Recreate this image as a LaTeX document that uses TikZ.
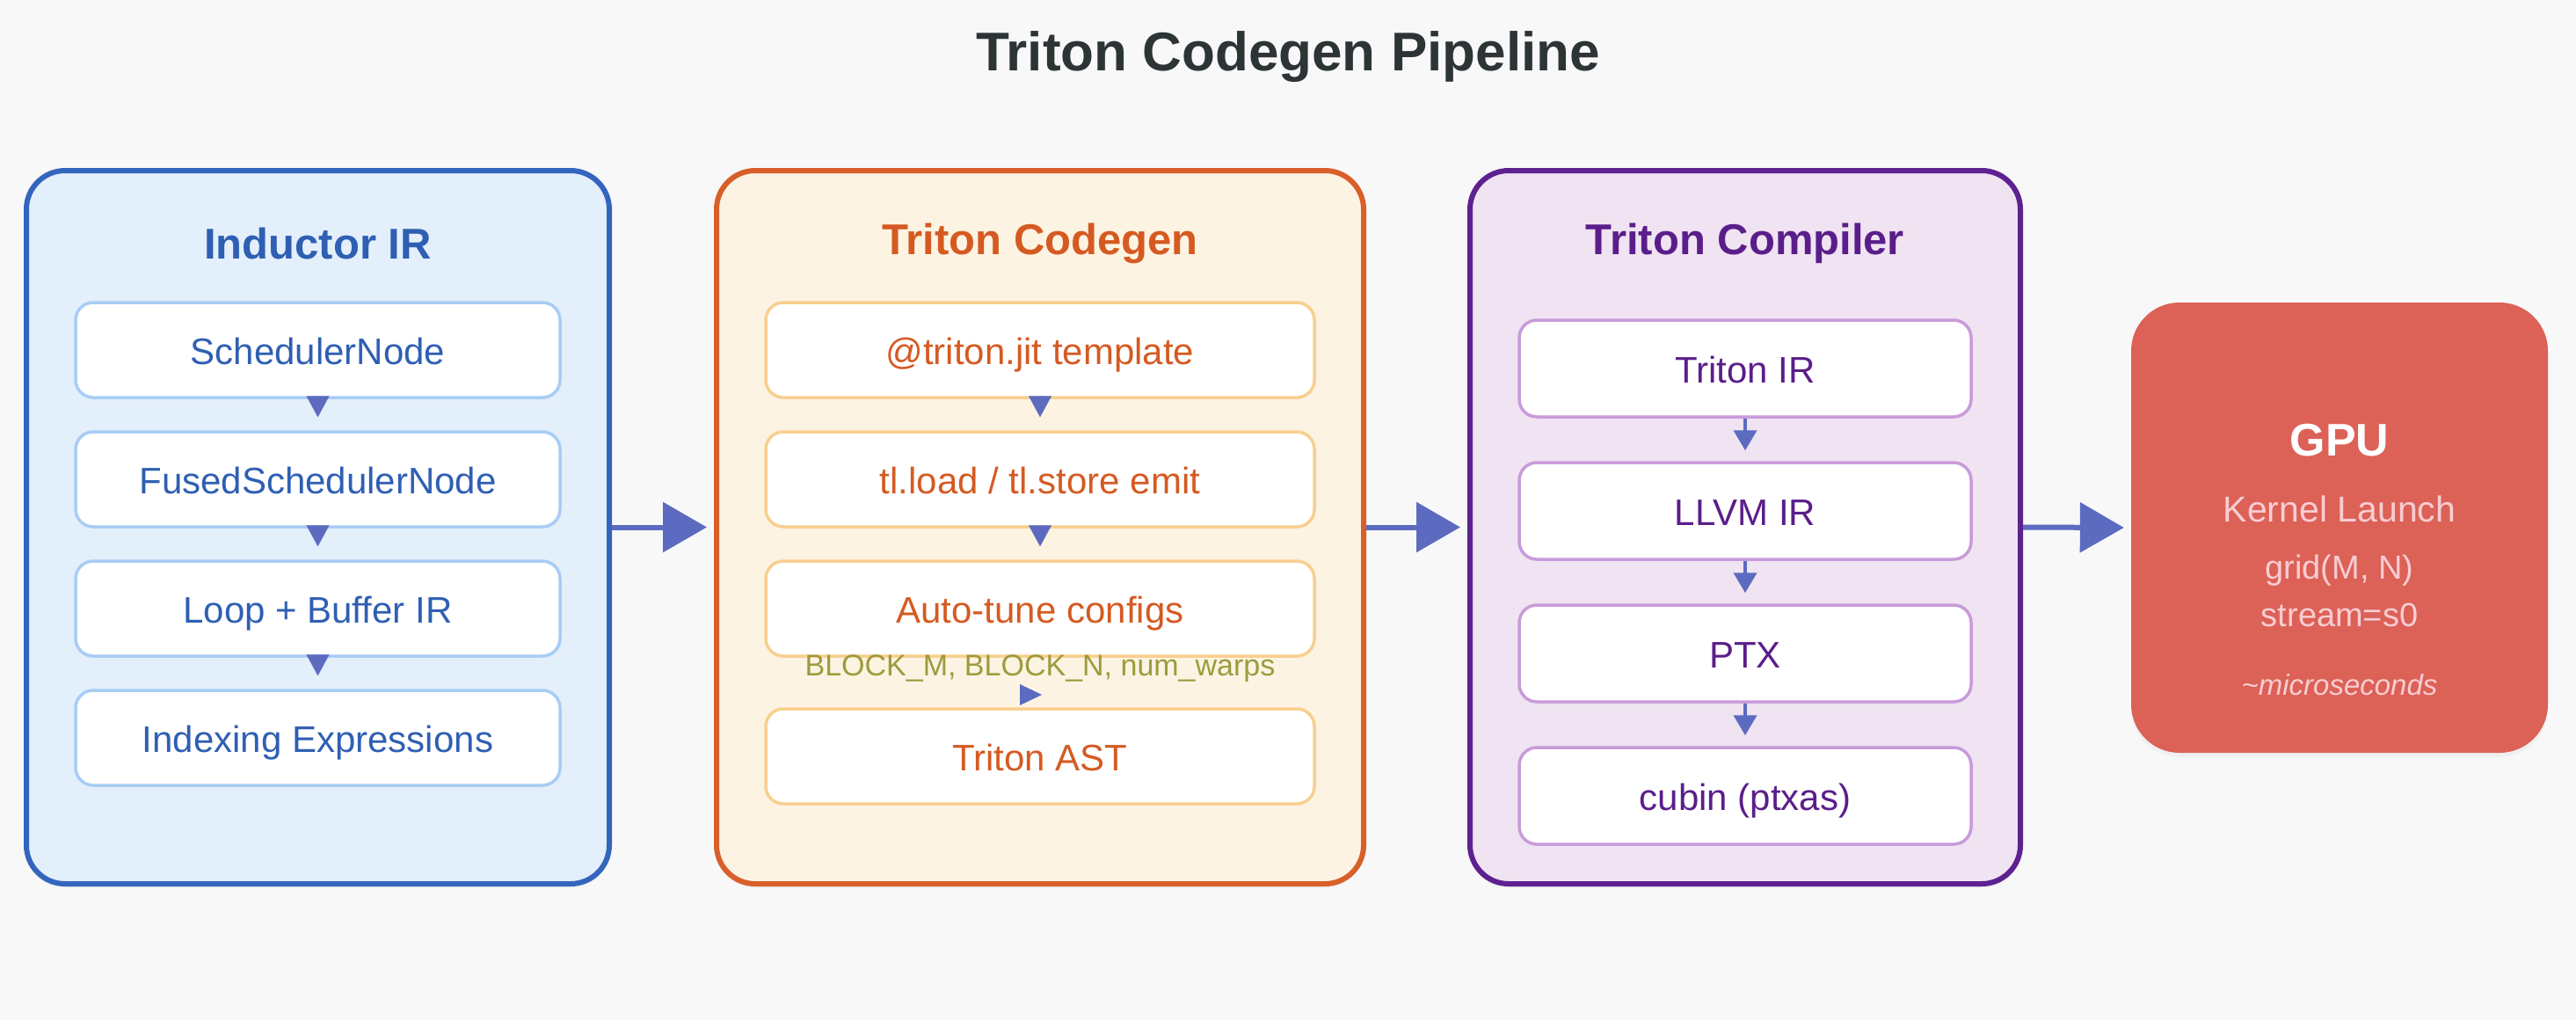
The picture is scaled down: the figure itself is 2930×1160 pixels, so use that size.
\documentclass[tikz,border=0pt]{standalone}
\usepackage{fontspec}
\setmainfont{Liberation Sans}
\usetikzlibrary{arrows.meta,shadows}
\definecolor{bg}{HTML}{F8F8F8}
\definecolor{indB}{HTML}{3465BE}
\definecolor{indF}{HTML}{E3EFFA}
\definecolor{indI}{HTML}{A8CDF5}
\definecolor{indT}{HTML}{2F5FB3}
\definecolor{cgB}{HTML}{D95F2A}
\definecolor{cgF}{HTML}{FDF3E2}
\definecolor{cgI}{HTML}{F8CF8F}
\definecolor{cgT}{HTML}{D55A22}
\definecolor{cpB}{HTML}{5E2190}
\definecolor{cpF}{HTML}{F0E3F2}
\definecolor{cpI}{HTML}{C99BDA}
\definecolor{cpT}{HTML}{5A1E8A}
\definecolor{gpuF}{HTML}{DC6157}
\definecolor{gpuS}{HTML}{F8CDD2}
\definecolor{arr}{HTML}{5C6BC0}
\definecolor{blk}{HTML}{9C9C3C}
\definecolor{ttl}{HTML}{2D3436}
\begin{document}
\begin{tikzpicture}[x=1pt,y=-1pt,
  outerbox/.style={rounded corners=44pt, line width=6pt, minimum width=#1, minimum height=811pt,
     drop shadow={opacity=0.06, shadow xshift=0pt, shadow yshift=-5pt}},
  innerbox/.style={rounded corners=20pt, line width=3.5pt, fill=white, minimum height=108pt,
     font=\fontsize{42}{50}\selectfont, text height=36pt, text depth=4pt},
  coltitle/.style={font=\fontsize{49}{58}\selectfont\bfseries},
  mainarrow/.style={draw=arr, line width=6pt, -{Triangle[length=50pt,width=56pt]}, shorten >=8pt},
  headonly/.style={draw=arr, fill=arr, line width=0.1pt, -{Triangle[length=24pt,width=26pt]}, shorten >=15pt},
  smallarrow/.style={draw=arr, line width=4pt, -{Triangle[length=23pt,width=26pt]}, shorten >=12pt},
]
\fill[bg] (0,0) rectangle (2930,1160);
\useasboundingbox (0,0) rectangle (2930,1160);

\node[font=\fontsize{62}{72}\selectfont\bfseries, text=ttl] (title) at (1465,65) {Triton Codegen Pipeline};

% Inductor IR
\node[outerbox=663pt, draw=indB, fill=indF] (ind) at (361.5,599.5) {};
\node[coltitle, text=indT] (indt) at (361.5,277) {Inductor IR};
\node[innerbox, draw=indI, text=indT, minimum width=551pt] (i1) at (361.5,398) {SchedulerNode};
\node[innerbox, draw=indI, text=indT, minimum width=551pt] (i2) at (361.5,545) {FusedSchedulerNode};
\node[innerbox, draw=indI, text=indT, minimum width=551pt] (i3) at (361.5,692) {Loop + Buffer IR};
\node[innerbox, draw=indI, text=indT, minimum width=551pt] (i4) at (361.5,839) {Indexing Expressions};
\draw[headonly] (i1.south) -- (i2.north);
\draw[headonly] (i2.south) -- (i3.north);
\draw[headonly] (i3.south) -- (i4.north);

% Triton Codegen
\node[outerbox=736pt, draw=cgB, fill=cgF] (cg) at (1183,599.5) {};
\node[coltitle, text=cgT] (cgt) at (1183,277) {Triton Codegen};
\node[innerbox, draw=cgI, text=cgT, minimum width=624pt] (g1) at (1183,398) {@triton.jit template};
\node[innerbox, draw=cgI, text=cgT, minimum width=624pt] (g2) at (1183,545) {tl.load / tl.store emit};
\node[innerbox, draw=cgI, text=cgT, minimum width=624pt] (g3) at (1183,692) {Auto-tune configs};
\node[innerbox, draw=cgI, text=cgT, minimum width=624pt] (g4) at (1183,860) {Triton AST};
\draw[headonly] (g1.south) -- (g2.north);
\draw[headonly] (g2.south) -- (g3.north);
\node[font=\fontsize{34}{40}\selectfont, text=blk] (blab) at (1183,760) {BLOCK\_M, BLOCK\_N, num\_warps};
\fill[arr] (1160,778) -- (1185,790) -- (1160,802) -- cycle;

% Triton Compiler
\node[outerbox=626pt, draw=cpB, fill=cpF] (cp) at (1985,599.5) {};
\node[coltitle, text=cpT] (cpt) at (1985,277) {Triton Compiler};
\node[innerbox, draw=cpI, text=cpT, minimum width=514pt, minimum height=110pt] (c1) at (1985,419) {Triton IR};
\node[innerbox, draw=cpI, text=cpT, minimum width=514pt, minimum height=110pt] (c2) at (1985,581) {LLVM IR};
\node[innerbox, draw=cpI, text=cpT, minimum width=514pt, minimum height=110pt] (c3) at (1985,743) {PTX};
\node[innerbox, draw=cpI, text=cpT, minimum width=514pt, minimum height=110pt] (c4) at (1985,905) {cubin (ptxas)};
\draw[smallarrow] (c1.south) -- (c2.north);
\draw[smallarrow] (c2.south) -- (c3.north);
\draw[smallarrow] (c3.south) -- (c4.north);

% GPU
\node[rounded corners=55pt, fill=gpuF, minimum width=474pt, minimum height=512pt,
  drop shadow={opacity=0.06, shadow xshift=0pt, shadow yshift=-5pt}] (gpu) at (2661,600) {};
\node[font=\fontsize{52}{60}\selectfont\bfseries, text=white] (gpul) at (2661,501) {GPU};
\node[font=\fontsize{41}{48}\selectfont, text=gpuS] (gpuk) at (2661,579) {Kernel Launch};
\node[font=\fontsize{38}{44}\selectfont, text=gpuS] (gpug) at (2661,649) {grid(M, N)};
\node[font=\fontsize{38}{44}\selectfont, text=gpuS] (gpus) at (2661,699) {stream=s0};
\node[font=\fontsize{33}{40}\selectfont\itshape, text=gpuS] (gpum) at (2661,779) {\textasciitilde microseconds};

% main arrows
\draw[mainarrow] (ind.east) -- (cg.west);
\draw[mainarrow] (cg.east) -- (cp.west);
\draw[mainarrow] (cp.east) -- (gpu.west);
\end{tikzpicture}
\end{document}
